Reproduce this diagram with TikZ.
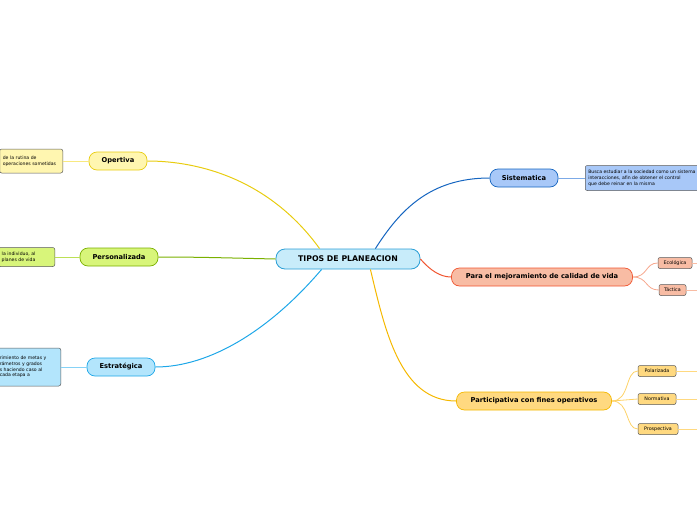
\documentclass[tikz,border=0pt]{standalone}
\usepackage{fontspec}
\setmainfont{DejaVu Sans}
\begin{document}
\begin{tikzpicture}[x=1pt,y=-1pt,
 main/.style={draw,line width=0.8pt,rounded corners=9pt,minimum height=20pt,inner xsep=8pt,font=\bfseries\fontsize{7.8}{9}\selectfont},
 topic/.style={draw,line width=0.7pt,rounded corners=8pt,minimum height=18pt,inner xsep=7pt,font=\bfseries\fontsize{6.7}{8}\selectfont},
 leaf/.style={draw=gray!70!black,line width=0.5pt,rounded corners=2pt,inner sep=3pt,font=\fontsize{4.6}{5.8}\selectfont,align=left},
 sub/.style={draw=gray!70!black,line width=0.5pt,rounded corners=2pt,minimum height=11pt,inner xsep=3pt,inner ysep=1pt,font=\fontsize{4.8}{6}\selectfont}]
\definecolor{cB}{HTML}{C8ECFA}\definecolor{cBd}{HTML}{2A9FD6}
\definecolor{yF}{HTML}{FFF6B0}\definecolor{yD}{HTML}{E8CC10}
\definecolor{gF}{HTML}{D8F57A}\definecolor{gD}{HTML}{7AB000}
\definecolor{eF}{HTML}{B3E5FC}\definecolor{eD}{HTML}{1EA7E8}
\definecolor{sF}{HTML}{A8C8F8}\definecolor{sD}{HTML}{1565C0}
\definecolor{pF}{HTML}{F8BCA4}\definecolor{pD}{HTML}{F05530}
\definecolor{oF}{HTML}{FFD980}\definecolor{oD}{HTML}{F5B800}
\useasboundingbox (0,0) rectangle (697,520);
\clip (0,0) rectangle (697,520);
\node[main,fill=cB,draw=cBd,minimum width=144pt] (c) at (348,259) {TIPOS DE PLANEACION};
\node[topic,fill=yF,draw=yD,minimum width=58pt] (op) at (118,161) {Opertiva};
\node[topic,fill=gF,draw=gD,minimum width=78pt] (pe) at (119,257) {Personalizada};
\node[topic,fill=eF,draw=eD,minimum width=68pt] (es) at (121,367) {Estratégica};
\node[topic,fill=sF,draw=sD,minimum width=68pt] (si) at (524,178) {Sistematica};
\node[topic,fill=pF,draw=pD,minimum width=181pt] (pa) at (542,277) {Para el mejoramiento de calidad de vida};
\node[topic,fill=oF,draw=oD,minimum width=155pt] (pc) at (534,401) {Participativa con fines operativos};
\node[leaf,fill=yF,anchor=east,text width=57pt,minimum height=24pt] (opt) at (63,161) {de la rutina de\\operaciones sometidas};
\node[leaf,fill=gF,anchor=east,text width=50pt,minimum height=19pt] (pet) at (55,257) {la individuo, al\\planes de vida};
\node[leaf,fill=eF,anchor=east,text width=58pt,minimum height=38pt] (est) at (61,367) {rimiento de metas y\\rámetros y grados\\s haciendo caso al\\cada etapa a};
\node[leaf,fill=sF,anchor=west,text width=150pt,minimum height=25pt] (sit) at (585,178) {Busca estudiar a la sociedad como un sistema de\\interacciones, afin de obtener el control\\que debe reinar en la misma};
\node[sub,fill=pF,minimum width=34pt] (ec) at (675,263) {Ecológica};
\node[sub,fill=pF,minimum width=27pt] (ta) at (672.5,290) {Táctica};
\node[sub,fill=oF,minimum width=38pt] (po) at (657,371) {Polarizada};
\node[sub,fill=oF,minimum width=38pt] (no) at (657,399) {Normativa};
\node[sub,fill=oF,minimum width=40pt] (pr) at (658,429) {Prospectiva};
\coordinate (e1) at (697,263); \coordinate (e2) at (697,290);
\coordinate (e3) at (697,371); \coordinate (e4) at (697,399); \coordinate (e5) at (697,429);
\begin{scope}[line width=1pt]
\draw[yD] (c.north west)++(44,0) .. controls (270,180) and (200,161) .. (op.east);
\draw[gD] (c.west) .. controls (230,258) and (200,257) .. (pe.east);
\draw[eD] (c.south west)++(46,0) .. controls (270,330) and (210,367) .. (es.east);
\draw[sD] (c.north east)++(-45,0) .. controls (400,210) and (430,178) .. (si.west);
\draw[pD] (c.east) .. controls (430,270) and (440,277) .. (pa.west);
\draw[oD] (c.south east)++(-50,0) .. controls (385,330) and (400,401) .. (pc.west);
\end{scope}
\begin{scope}[line width=0.8pt]
\draw[yF!70!yD] (op.west) -- (opt.east);
\draw[gF!70!gD] (pe.west) -- (pet.east);
\draw[eF!70!eD] (es.west) -- (est.east);
\draw[sF!70!sD] (si.east) -- (sit.west);
\draw[pF!80!pD] (pa.east) .. controls (648,277) and (645,263) .. (ec.west);
\draw[pF!80!pD] (pa.east) .. controls (648,277) and (645,290) .. (ta.west);
\draw[oF!80!oD] (pc.east) .. controls (630,401) and (625,371) .. (po.west);
\draw[oF!80!oD] (pc.east) -- (no.west);
\draw[oF!80!oD] (pc.east) .. controls (630,401) and (625,429) .. (pr.west);
\draw[pF] (ec.east) -- (e1); \draw[pF] (ta.east) -- (e2);
\draw[oF] (po.east) -- (e3); \draw[oF] (no.east) -- (e4); \draw[oF] (pr.east) -- (e5);
\end{scope}
\end{tikzpicture}
\end{document}
